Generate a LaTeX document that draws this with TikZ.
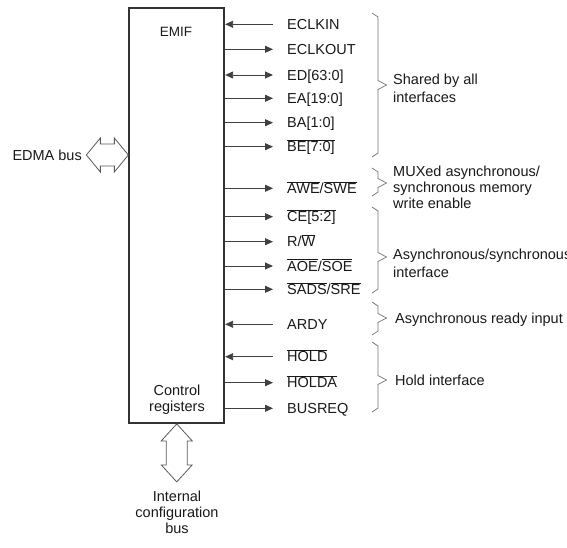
\documentclass[tikz,border=0pt]{standalone}
\usepackage{fontspec}
\setmainfont{Liberation Sans}
\usetikzlibrary{arrows.meta,positioning}
\colorlet{ln}{black!75}
\colorlet{br}{black!55}
\newcommand{\ovl}[1]{$\overline{\hbox{#1}}$}
\newcommand{\sbrace}[3]{\draw[brc] (372,#1) -- (378,#1+4) -- (378,#2-4.5) -- (386.5,#2) -- (378,#2+4.5) -- (378,#3-4) -- (372,#3);}
\tikzset{emifbox/.style={draw=black!80, line width=1.8pt, minimum width=95pt, minimum height=415pt, inner sep=0pt},
         sig/.style={anchor=west, inner sep=0pt, text height=10.4pt, text depth=0pt},
         wire/.style={draw=ln, line width=0.9pt},
         sigout/.style={wire, -{Triangle[length=8pt,width=7pt]}, shorten >=14pt},
         sigin/.style={wire, {Triangle[length=8pt,width=7pt]}-, shorten >=14pt},
         sigboth/.style={wire, {Triangle[length=8pt,width=7pt]}-{Triangle[length=8pt,width=7pt]}, shorten >=14pt},
         brc/.style={draw=br, line width=0.7pt},
         bus/.style={draw=black!65, line width=0.8pt, line join=miter},
         note/.style={anchor=west, inner sep=0pt, align=left}}

\begin{document}
\begin{tikzpicture}[x=1pt, y=-1pt, font=\fontsize{14.5pt}{16pt}\selectfont, text=black!90]
\useasboundingbox (0,0) rectangle (567,548);
\clip (0,0) rectangle (567,548);

 \node[emifbox] (emif) at (176.75,215.5) {};
 \node[font=\fontsize{13.5pt}{15pt}\selectfont] (title) at (176,32) {EMIF};
 \node[align=center] (ctrl) at (177,400) {Control\\registers};

 % signals on the right side
 \node[sig] (eclkin) at (287,24.3) {ECLKIN};
 \node[sig] (eclkout) at (287,49.3) {ECLKOUT};
 \node[sig] (ed) at (287,75) {ED[63:0]};
 \node[sig] (ea) at (287,98.3) {EA[19:0]};
 \node[sig] (ba) at (287,122.7) {BA[1:0]};
 \node[sig] (be) at (287,146.7) {\ovl{BE[7:0]}};
 \node[sig] (awe) at (287,188.3) {\ovl{AWE}/\ovl{SWE}};
 \node[sig] (ce) at (287,216.7) {\ovl{CE[5:2]}};
 \node[sig] (rw) at (287,241.7) {R/\ovl{W}};
 \node[sig] (aoe) at (287,266) {\ovl{AOE}/\ovl{SOE}};
 \node[sig] (sads) at (287,289.3) {\ovl{SADS}/\ovl{SRE}};
 \node[sig] (ardy) at (287,324.3) {ARDY};
 \node[sig] (hold) at (287,356.7) {\ovl{HOLD}};
 \node[sig] (holda) at (287,382.7) {\ovl{HOLDA}};
 \node[sig] (busreq) at (287,408.3) {BUSREQ};

 \draw[sigin] (emif.east |- eclkin) -- (eclkin.west);
 \draw[sigout] (emif.east |- eclkout) -- (eclkout.west);
 \draw[sigboth] (emif.east |- ed) -- (ed.west);
 \draw[sigout] (emif.east |- ea) -- (ea.west);
 \draw[sigout] (emif.east |- ba) -- (ba.west);
 \draw[sigout] (emif.east |- be) -- (be.west);
 \draw[sigout] (emif.east |- awe) -- (awe.west);
 \draw[sigout] (emif.east |- ce) -- (ce.west);
 \draw[sigout] (emif.east |- rw) -- (rw.west);
 \draw[sigout] (emif.east |- aoe) -- (aoe.west);
 \draw[sigout] (emif.east |- sads) -- (sads.west);
 \draw[sigin] (emif.east |- ardy) -- (ardy.west);
 \draw[sigin] (emif.east |- hold) -- (hold.west);
 \draw[sigout] (emif.east |- holda) -- (holda.west);
 \draw[sigout] (emif.east |- busreq) -- (busreq.west);

 % buses
 \node[sig, anchor=east] (edma) at (82,155) {EDMA bus};
 \draw[bus] (emif.west |- edma) -- ++(-14,-17) -- ++(0,6) -- ++(-14,0) -- ++(0,-6) -- ++(-14,17)
   -- ++(14,17) -- ++(0,-6) -- ++(14,0) -- ++(0,6) -- cycle;
 \node[align=center] (ibus) at (177,512) {Internal\\configuration\\bus};
 \draw[bus] (emif.south) -- ++(15.5,17) -- ++(-5,0) -- ++(0,24) -- ++(5,0) -- ++(-15.5,17)
   -- ++(-15.5,-17) -- ++(5,0) -- ++(0,-24) -- ++(-5,0) -- cycle;

 % groups
 \sbrace{13}{85}{157}
 \node[note, font=\fontsize{14.5pt}{18pt}\selectfont] (shared) at (393,88.8) {Shared by all\\interfaces};
 \sbrace{168}{183}{196}
 \node[note] (muxed) at (393,187.3) {MUXed asynchronous/\\synchronous memory\\write enable};
 \sbrace{207}{257}{293}
 \node[note, font=\fontsize{14.5pt}{18pt}\selectfont] (async) at (393,263.8) {Asynchronous/synchronous\\interface};
 \sbrace{302}{318}{335}
 \node[sig] (ardynote) at (395,317.8) {Asynchronous ready input};
 \sbrace{342}{380}{412}
 \node[sig] (holdnote) at (395,380) {Hold interface};
\end{tikzpicture}
\end{document}
